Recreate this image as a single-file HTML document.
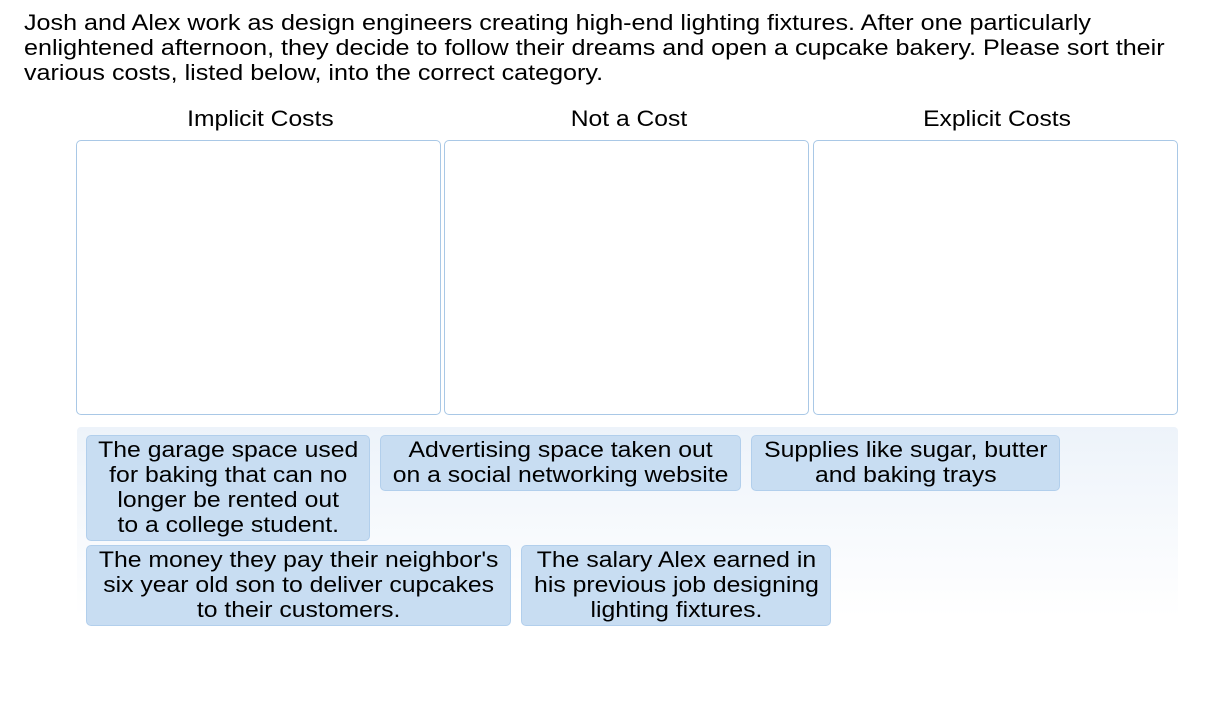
<!DOCTYPE html>
<html><head><style>
body{margin:0;width:1216px;height:712px;background:#fff;font-family:"Liberation Sans",sans-serif;color:#000;position:relative;overflow:hidden}
.s{display:inline-block;transform:scaleX(1.12);white-space:nowrap}
.q{position:absolute;left:24px;top:10px;width:1170px;font-size:22px;line-height:25px}
.q .s{transform-origin:left center;transform:scaleX(1.142)}
.h{position:absolute;top:106px;font-size:22px;text-align:center;width:365px}
.b{position:absolute;top:140px;height:273px;width:363px;border:1px solid #a9c8e6;border-radius:5px;box-sizing:content-box}
.tray{position:absolute;left:77px;top:427px;width:1101px;height:190px;background:linear-gradient(#edf3fa,#fff);border-radius:4px}
.t{position:absolute;background:#c8ddf2;border:1px solid #b2cfec;border-radius:5px;font-size:22.5px;line-height:25px;text-align:center;box-sizing:border-box;padding-top:1px}
.t .s{transform:scaleX(1.1)}
</style></head><body>
<div class="q"><span class="s">Josh and Alex work as design engineers creating high-end lighting fixtures. After one particularly</span><br><span class="s">enlightened afternoon, they decide to follow their dreams and open a cupcake bakery. Please sort their</span><br><span class="s">various costs, listed below, into the correct category.</span></div>
<div class="h" style="left:78px"><span class="s">Implicit Costs</span></div>
<div class="h" style="left:446px"><span class="s">Not a Cost</span></div>
<div class="h" style="left:815px"><span class="s">Explicit Costs</span></div>
<div class="b" style="left:76px"></div>
<div class="b" style="left:444px"></div>
<div class="b" style="left:813px"></div>
<div class="tray"></div>
<div class="t" style="left:86px;top:435px;width:284px;height:106px"><span class="s">The garage space used<br>for baking that can no<br>longer be rented out<br>to a college student.</span></div>
<div class="t" style="left:380px;top:435px;width:361px;height:56px"><span class="s">Advertising space taken out<br>on a social networking website</span></div>
<div class="t" style="left:751px;top:435px;width:309px;height:56px"><span class="s">Supplies like sugar, butter<br>and baking trays</span></div>
<div class="t" style="left:86px;top:545px;width:425px;height:81px"><span class="s">The money they pay their neighbor's<br>six year old son to deliver cupcakes<br>to their customers.</span></div>
<div class="t" style="left:521px;top:545px;width:310px;height:81px"><span class="s">The salary Alex earned in<br>his previous job designing<br>lighting fixtures.</span></div>
</body></html>
